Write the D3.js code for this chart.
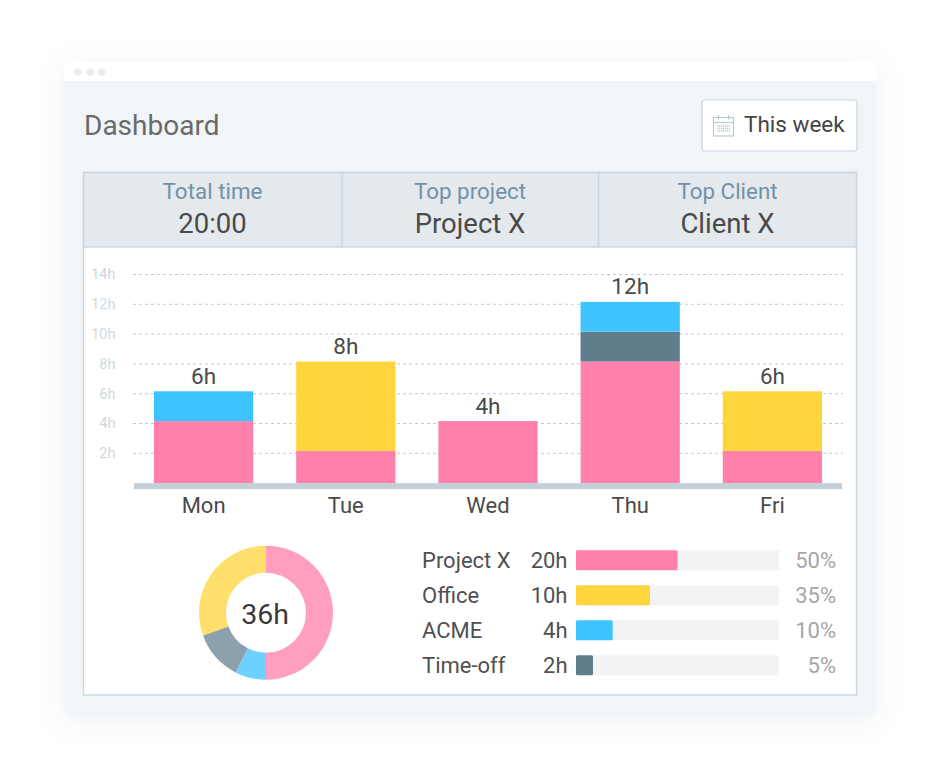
<!DOCTYPE html>
<html>
<head>
<meta charset="utf-8">
<title>Dashboard</title>
<script src="https://cdn.jsdelivr.net/npm/d3@7"></script>
<style>
  html, body { margin: 0; padding: 0; background: #fff; }
  svg { display: block; }
  text { font-family: Roboto, "Noto Sans", sans-serif; }
</style>
</head>
<body>
<svg id="board" width="940" height="774"></svg>
<script>
// Weekly hours, stacked per project
const days = ["Mon", "Tue", "Wed", "Thu", "Fri"];
const projects = ["Project X", "Office", "ACME", "Time-off"];
const projectX = [4, 2, 4, 8, 2];
const office = [0, 6, 0, 0, 4];
const timeOff = [0, 0, 0, 2, 0];
const acme = [2, 0, 0, 2, 0];
const stackOrder = ["Project X", "Office", "Time-off", "ACME"];
const hourTicks = [2, 4, 6, 8, 10, 12, 14];

// Summary strip
const summaryTitles = ["Total time", "Top project", "Top Client"];
const summaryValues = ["20:00", "Project X", "Client X"];

// Project breakdown
const breakdownHours = [20, 10, 4, 2];
const breakdownShare = [50, 35, 10, 5];

// Donut slices, in hours, clockwise from twelve o'clock
const donutOrder = ["Project X", "ACME", "Time-off", "Office"];
const donutHours = [18, 2.7, 4.3, 11];
const donutTotal = "36h";

const palette = d3.scaleOrdinal()
  .domain(projects)
  .range(["#ff80a9", "#ffd53d", "#3fc3ff", "#607d8b"]);

const svg = d3.select("#board");
const defs = svg.append("defs");
defs.append("filter").attr("id", "soft")
  .attr("x", "-15%").attr("y", "-15%").attr("width", "130%").attr("height", "130%")
  .append("feDropShadow")
  .attr("dx", 0).attr("dy", 5).attr("stdDeviation", 14)
  .attr("flood-color", "#5f7f96").attr("flood-opacity", 0.12);

const line = "#c9d6df";

// Window frame
svg.append("rect").attr("x", 64).attr("y", 61).attr("width", 812).attr("height", 654)
  .attr("rx", 8).attr("fill", "#f1f5f8").attr("filter", "url(#soft)");
svg.append("path").attr("d", "M64 81V69a8 8 0 0 1 8-8H868a8 8 0 0 1 8 8V81Z").attr("fill", "#fff");
svg.append("g").selectAll("circle").data([77.7, 90, 102]).join("circle")
  .attr("cx", d => d).attr("cy", 72.3).attr("r", 3.7).attr("fill", "#e8edf0");

svg.append("text").attr("x", 84).attr("y", 135).attr("font-size", 28)
  .attr("fill", "#6a6a6a").text("Dashboard");

// Date range button with its calendar icon
const button = svg.append("g");
button.append("rect").attr("x", 702).attr("y", 100).attr("width", 155).attr("height", 51)
  .attr("rx", 3).attr("fill", "#fff").attr("stroke", line).attr("stroke-width", 1.2);
const icon = button.append("g").attr("stroke", "#b9cad5").attr("fill", "none");
icon.append("rect").attr("x", 713.5).attr("y", 117.5).attr("width", 20).attr("height", 18.5).attr("stroke-width", 1.2);
icon.append("line").attr("x1", 713.5).attr("x2", 733.5).attr("y1", 122.5).attr("y2", 122.5).attr("stroke-width", 1.2);
icon.selectAll("line.peg").data([718.5, 728.5]).join("line").attr("class", "peg")
  .attr("x1", d => d).attr("x2", d => d).attr("y1", 115).attr("y2", 119.5).attr("stroke-width", 1.2);
icon.selectAll("line.row").data([126, 128.5, 131]).join("line").attr("class", "row")
  .attr("x1", 717).attr("x2", 730).attr("y1", d => d).attr("y2", d => d)
  .attr("stroke-width", 1.4).attr("stroke-dasharray", "1.2 .8");
button.append("text").attr("x", 744).attr("y", 131.7).attr("font-size", 22.5)
  .attr("fill", "#444").text("This week");

// Summary strip and white body
svg.append("rect").attr("x", 83.5).attr("y", 172.5).attr("width", 773).attr("height", 522.5)
  .attr("fill", "#fff").attr("stroke", line).attr("stroke-width", 1.4);
svg.append("rect").attr("x", 83.5).attr("y", 172.5).attr("width", 773).attr("height", 74.5)
  .attr("fill", "#e4e9ed").attr("stroke", line).attr("stroke-width", 1.4);
svg.append("g").selectAll("line").data([342, 598.5]).join("line")
  .attr("x1", d => d).attr("x2", d => d).attr("y1", 172.5).attr("y2", 247)
  .attr("stroke", line).attr("stroke-width", 1.4);
const summaryX = d3.scalePoint().domain(summaryTitles).range([212.5, 727.5]);
const summary = svg.append("g").attr("text-anchor", "middle");
summary.selectAll("text.title").data(summaryTitles).join("text").attr("class", "title")
  .attr("x", d => summaryX(d)).attr("y", 199).attr("font-size", 22.4).attr("fill", "#7391a6").text(d => d);
summary.selectAll("text.value").data(summaryValues).join("text").attr("class", "value")
  .attr("x", (d, i) => summaryX(summaryTitles[i])).attr("y", 233).attr("font-size", 27.5)
  .attr("fill", "#4a4a4a").text(d => d);

// Stacked bars
const x = d3.scaleBand().domain(days).range([132.5, 843.5]).paddingInner(0.302).paddingOuter(0.151);
const y = d3.scaleLinear().domain([0, 14]).range([480.7, 272.1]);
const gridDrop = 2.4;
const axisTop = y(0) + gridDrop;

const grid = svg.append("g").attr("transform", `translate(0,${gridDrop})`);
grid.selectAll("line").data(hourTicks).join("line")
  .attr("x1", 133).attr("x2", 843).attr("y1", d => y(d)).attr("y2", d => y(d))
  .attr("stroke", "#bccbd5").attr("stroke-width", 1).attr("stroke-dasharray", "3 3");
grid.selectAll("text").data(hourTicks).join("text")
  .attr("x", 115.5).attr("y", d => y(d) + 5).attr("text-anchor", "end")
  .attr("font-size", 14.5).attr("fill", "#cdd9e1").text(d => d + "h");

const seriesByName = { "Project X": projectX, "Office": office, "Time-off": timeOff, "ACME": acme };
const table = days.map((day, i) => {
  const row = { day };
  stackOrder.forEach(name => { row[name] = seriesByName[name][i]; });
  return row;
});
const stacked = d3.stack().keys(stackOrder)(table);
svg.append("g").selectAll("g").data(stacked).join("g")
  .attr("fill", s => palette(s.key))
  .selectAll("rect").data(s => s.filter(d => d[1] > d[0])).join("rect")
  .attr("x", d => x(d.data.day))
  .attr("width", x.bandwidth())
  .attr("y", d => y(d[1]))
  .attr("height", d => (d[0] === 0 ? axisTop : y(d[0])) - y(d[1]));

const dayTotals = table.map(row => d3.sum(stackOrder, name => row[name]));
svg.append("g").attr("text-anchor", "middle").selectAll("text").data(days).join("text")
  .attr("x", d => x(d) + x.bandwidth() / 2)
  .attr("y", (d, i) => y(dayTotals[i]) - 7.5)
  .attr("font-size", 22.5).attr("fill", "#4a4a4a")
  .text((d, i) => dayTotals[i] + "h");

svg.append("rect").attr("x", 134).attr("y", axisTop).attr("width", 708).attr("height", 6).attr("fill", "#c4d0d8");
svg.append("g").attr("text-anchor", "middle").selectAll("text").data(days).join("text")
  .attr("x", d => x(d) + x.bandwidth() / 2).attr("y", 513)
  .attr("font-size", 22).attr("fill", "#4a4a4a").text(d => d);

// Donut
const arc = d3.arc().innerRadius(40).outerRadius(67);
const pie = d3.pie().sort(null).value(d => d);
const donut = svg.append("g").attr("transform", "translate(266,612.7)");
donut.selectAll("path").data(pie(donutHours)).join("path")
  .attr("d", arc)
  .attr("fill", (d, i) => palette(donutOrder[i]))
  .attr("fill-opacity", (d, i) => donutOrder[i] === "Time-off" ? 0.72 : 0.76);
donut.append("text").attr("text-anchor", "middle").attr("x", -1).attr("y", 11.5)
  .attr("font-size", 28.5).attr("fill", "#3a3a3a").text(donutTotal);

// Breakdown rows. The meter is not proportional: short shares get a longer run,
// so the stated percentage goes through a piecewise scale.
const meter = d3.scaleLinear().domain([0, 5, 10, 35, 50, 100]).range([0, 17, 36.7, 74, 101.5, 203]);
const rowY = d3.scalePoint().domain(projects).range([550.3, 655.3]);
const rows = svg.append("g").selectAll("g").data(projects).join("g")
  .attr("transform", d => `translate(0,${rowY(d)})`);
rows.append("text").attr("x", 422).attr("y", 17.2).attr("font-size", 22).attr("fill", "#505050").text(d => d);
rows.append("text").attr("x", 567.5).attr("y", 17.2).attr("text-anchor", "end")
  .attr("font-size", 22).attr("fill", "#505050").text((d, i) => breakdownHours[i] + "h");
rows.append("rect").attr("x", 576).attr("width", meter(100)).attr("height", 20).attr("fill", "#f3f3f3");
rows.append("rect").attr("x", 576).attr("width", (d, i) => meter(breakdownShare[i])).attr("height", 20)
  .attr("rx", 1.5).attr("fill", d => palette(d));
rows.append("text").attr("x", 836).attr("y", 17.2).attr("text-anchor", "end")
  .attr("font-size", 22).attr("fill", "#a6a6a6").text((d, i) => breakdownShare[i] + "%");
</script>
</body>
</html>
